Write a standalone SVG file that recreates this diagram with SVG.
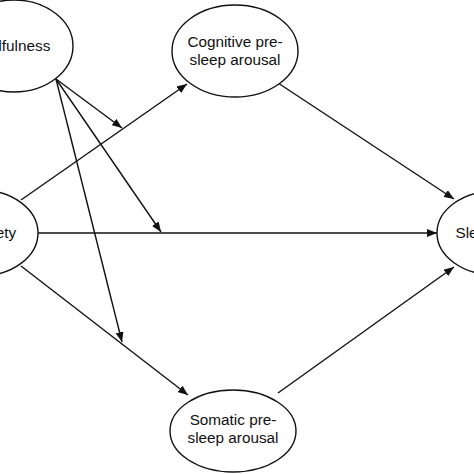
<svg xmlns="http://www.w3.org/2000/svg" width="474" height="474" viewBox="0 0 474 474">
<style>
.node ellipse{fill:#fff;stroke:#111;stroke-width:1.4}
.node text{font-family:"Liberation Sans",Arial,sans-serif;font-size:15.3px;fill:#111;text-anchor:middle}
.edges line{stroke:#111;stroke-width:1.4;marker-end:url(#ah)}
</style>
<defs>
<marker id="ah" viewBox="0 0 10 8" refX="10" refY="4" markerWidth="10" markerHeight="8" markerUnits="userSpaceOnUse" orient="auto">
<path d="M0,0 L10,4 L0,8 Z" fill="#111"/>
</marker>
</defs>
<rect width="474" height="474" fill="#fff"/>
<g class="edges">
<line x1="21" y1="200" x2="187" y2="84"/>
<line x1="38" y1="233" x2="437" y2="233"/>
<line x1="21" y1="266" x2="188" y2="395"/>
<line x1="278" y1="83" x2="454" y2="199"/>
<line x1="278" y1="393" x2="454" y2="267"/>
<line x1="56" y1="79" x2="122" y2="128"/>
<line x1="56" y1="79" x2="161" y2="232"/>
<line x1="56" y1="79" x2="122" y2="342"/>
</g>
<g id="mindfulness" class="node">
<ellipse cx="14" cy="46" rx="59" ry="46"/>
<text x="9.5" y="51">Mindfulness</text>
</g>
<g id="anxiety" class="node">
<ellipse cx="-20" cy="233" rx="58" ry="43"/>
<text x="-9" y="238">Anxiety</text>
</g>
<g id="cognitive" class="node">
<ellipse cx="235" cy="51" rx="63" ry="46"/>
<text x="235" y="47">Cognitive pre-</text>
<text x="235" y="65">sleep arousal</text>
</g>
<g id="somatic" class="node">
<ellipse cx="233" cy="431" rx="63" ry="41"/>
<text x="233" y="425">Somatic pre-</text>
<text x="233" y="443">sleep arousal</text>
</g>
<g id="sleep" class="node">
<ellipse cx="495" cy="233" rx="58" ry="42"/>
<text x="475" y="238">Sleep</text>
</g>
</svg>
